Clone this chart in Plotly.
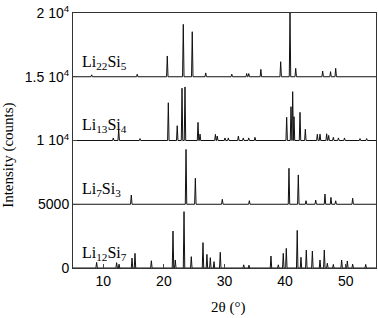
import plotly.graph_objects as go

# ---- data (2theta in degrees, peak heights in counts) ----
series_names = ["Li<sub>12</sub>Si<sub>7</sub>", "Li<sub>7</sub>Si<sub>3</sub>",
                "Li<sub>13</sub>Si<sub>4</sub>", "Li<sub>22</sub>Si<sub>5</sub>"]
offsets = [0, 5000, 10000, 15000]

li12si7_pos = [8.9, 12.2, 12.6, 14.74, 15.23, 17.93, 21.5, 21.88, 23.32, 24.52, 26.45, 27.1,
               27.66, 28.27, 29.3, 33.17, 34.04, 37.67, 38.88, 39.7, 40.2, 42.0, 42.62, 43.5,
               44.5, 45.76, 46.47, 46.97, 47.96, 49.33, 50.27, 51.15, 53.3]
li12si7_h = [440, 420, 300, 780, 1150, 570, 2900, 630, 4420, 890, 1990, 1070,
             810, 500, 1230, 250, 220, 940, 250, 1150, 1540, 2950, 840, 1410,
             1330, 630, 1410, 370, 280, 630, 550, 300, 280]

li7si3_pos = [14.62, 23.65, 25.19, 29.64, 34.1, 40.64, 42.18, 43.45, 45.05, 46.58, 47.57,
              48.35, 51.15]
li7si3_h = [720, 4300, 2040, 390, 280, 2820, 2300, 280, 330, 800, 540, 270, 470]

li13si4_pos = [11.65, 12.54, 16.06, 20.73, 22.2, 22.99, 23.48, 25.63, 25.96, 28.5, 28.8,
               30.08, 30.63, 32.29, 33.1, 34.0, 35.03, 40.26, 40.97, 41.25, 41.47, 42.46,
               43.34, 45.32, 45.76, 46.86, 47.19, 47.96, 48.8, 49.8, 52.36, 53.46]
li13si4_h = [200, 880, 150, 2960, 1160, 4100, 4200, 1420, 500, 480, 350,
             200, 200, 350, 200, 200, 250, 1820, 2650, 3830, 1870, 2210,
             880, 490, 500, 530, 400, 250, 200, 200, 150, 150]

li22si5_pos = [8.08, 15.6, 20.56, 23.2, 24.68, 26.9, 31.2, 33.66, 34.0, 36.0, 39.27,
               40.81, 41.75, 46.2, 47.5, 48.35]
li22si5_h = [150, 200, 1630, 4110, 3530, 300, 200, 250, 250, 580, 1180,
             5000, 660, 450, 400, 660]

label_x = [6.1, 6.1, 6.1, 6.1]
label_y = [1150, 6150, 11150, 16150]

x_ticks = [10, 20, 30, 40, 50]
y_ticks = [0, 5000, 10000, 15000, 20000]
y_ticktext = ["0", "5000", "1 10<sup>4</sup>", "1.5 10<sup>4</sup>", "2 10<sup>4</sup>"]

x_title = "2θ (°)"
y_title = "Intensity (counts)"

peak_sets = [(li12si7_pos, li12si7_h), (li7si3_pos, li7si3_h),
             (li13si4_pos, li13si4_h), (li22si5_pos, li22si5_h)]

HALF_W = 0.12


def profile(pos, h, base):
    xs, ys = [5.0], [base]
    for p, v in sorted(zip(pos, h)):
        xs += [p - HALF_W, p, p + HALF_W]
        ys += [base, base + v, base]
    xs.append(55.0)
    ys.append(base)
    return xs, ys


fig = go.Figure()
for (pos, h), off, name in zip(peak_sets, offsets, series_names):
    xs, ys = profile(pos, h, off)
    fig.add_trace(go.Scatter(x=xs, y=ys, mode="lines", name=name,
                             line=dict(color="#111", width=1), showlegend=False))

for name, lx, ly in zip(series_names, label_x, label_y):
    fig.add_annotation(x=lx, y=ly, text=name, showarrow=False, xanchor="left",
                       yanchor="middle",
                       font=dict(family="Liberation Serif", size=16, color="black"))

serif = dict(family="Liberation Serif", size=15, color="black")
fig.add_annotation(text=x_title, xref="paper", yref="paper", x=0.512, y=0,
                   yshift=-39, xanchor="center", yanchor="middle",
                   showarrow=False, font=serif)
fig.add_annotation(text=y_title, xref="paper", yref="paper", x=0, y=0.44,
                   xshift=-64, xanchor="center", yanchor="middle", textangle=-90,
                   showarrow=False, font=serif)

fig.update_layout(
    width=378, height=318,
    margin=dict(l=73, r=2, t=13, b=50, autoexpand=False),
    paper_bgcolor="white", plot_bgcolor="white",
    font=dict(family="Liberation Sans, Arial", size=13, color="black"),
)
fig.update_xaxes(range=[5, 55], tickvals=x_ticks, ticks="inside", ticklen=4,
                 showgrid=False, zeroline=False, showline=True, mirror=True,
                 linecolor="#333", linewidth=1, automargin=False,
                 tickfont=dict(size=14))
fig.update_yaxes(range=[0, 20000], tickvals=y_ticks, ticktext=y_ticktext,
                 ticks="inside", ticklen=4, showgrid=False, zeroline=False,
                 showline=True, mirror=True, linecolor="#333", linewidth=1,
                 automargin=False, tickfont=dict(size=14))

fig.write_html("out.html", config={"displayModeBar": False},
               post_script="document.body.style.margin='0px';")
